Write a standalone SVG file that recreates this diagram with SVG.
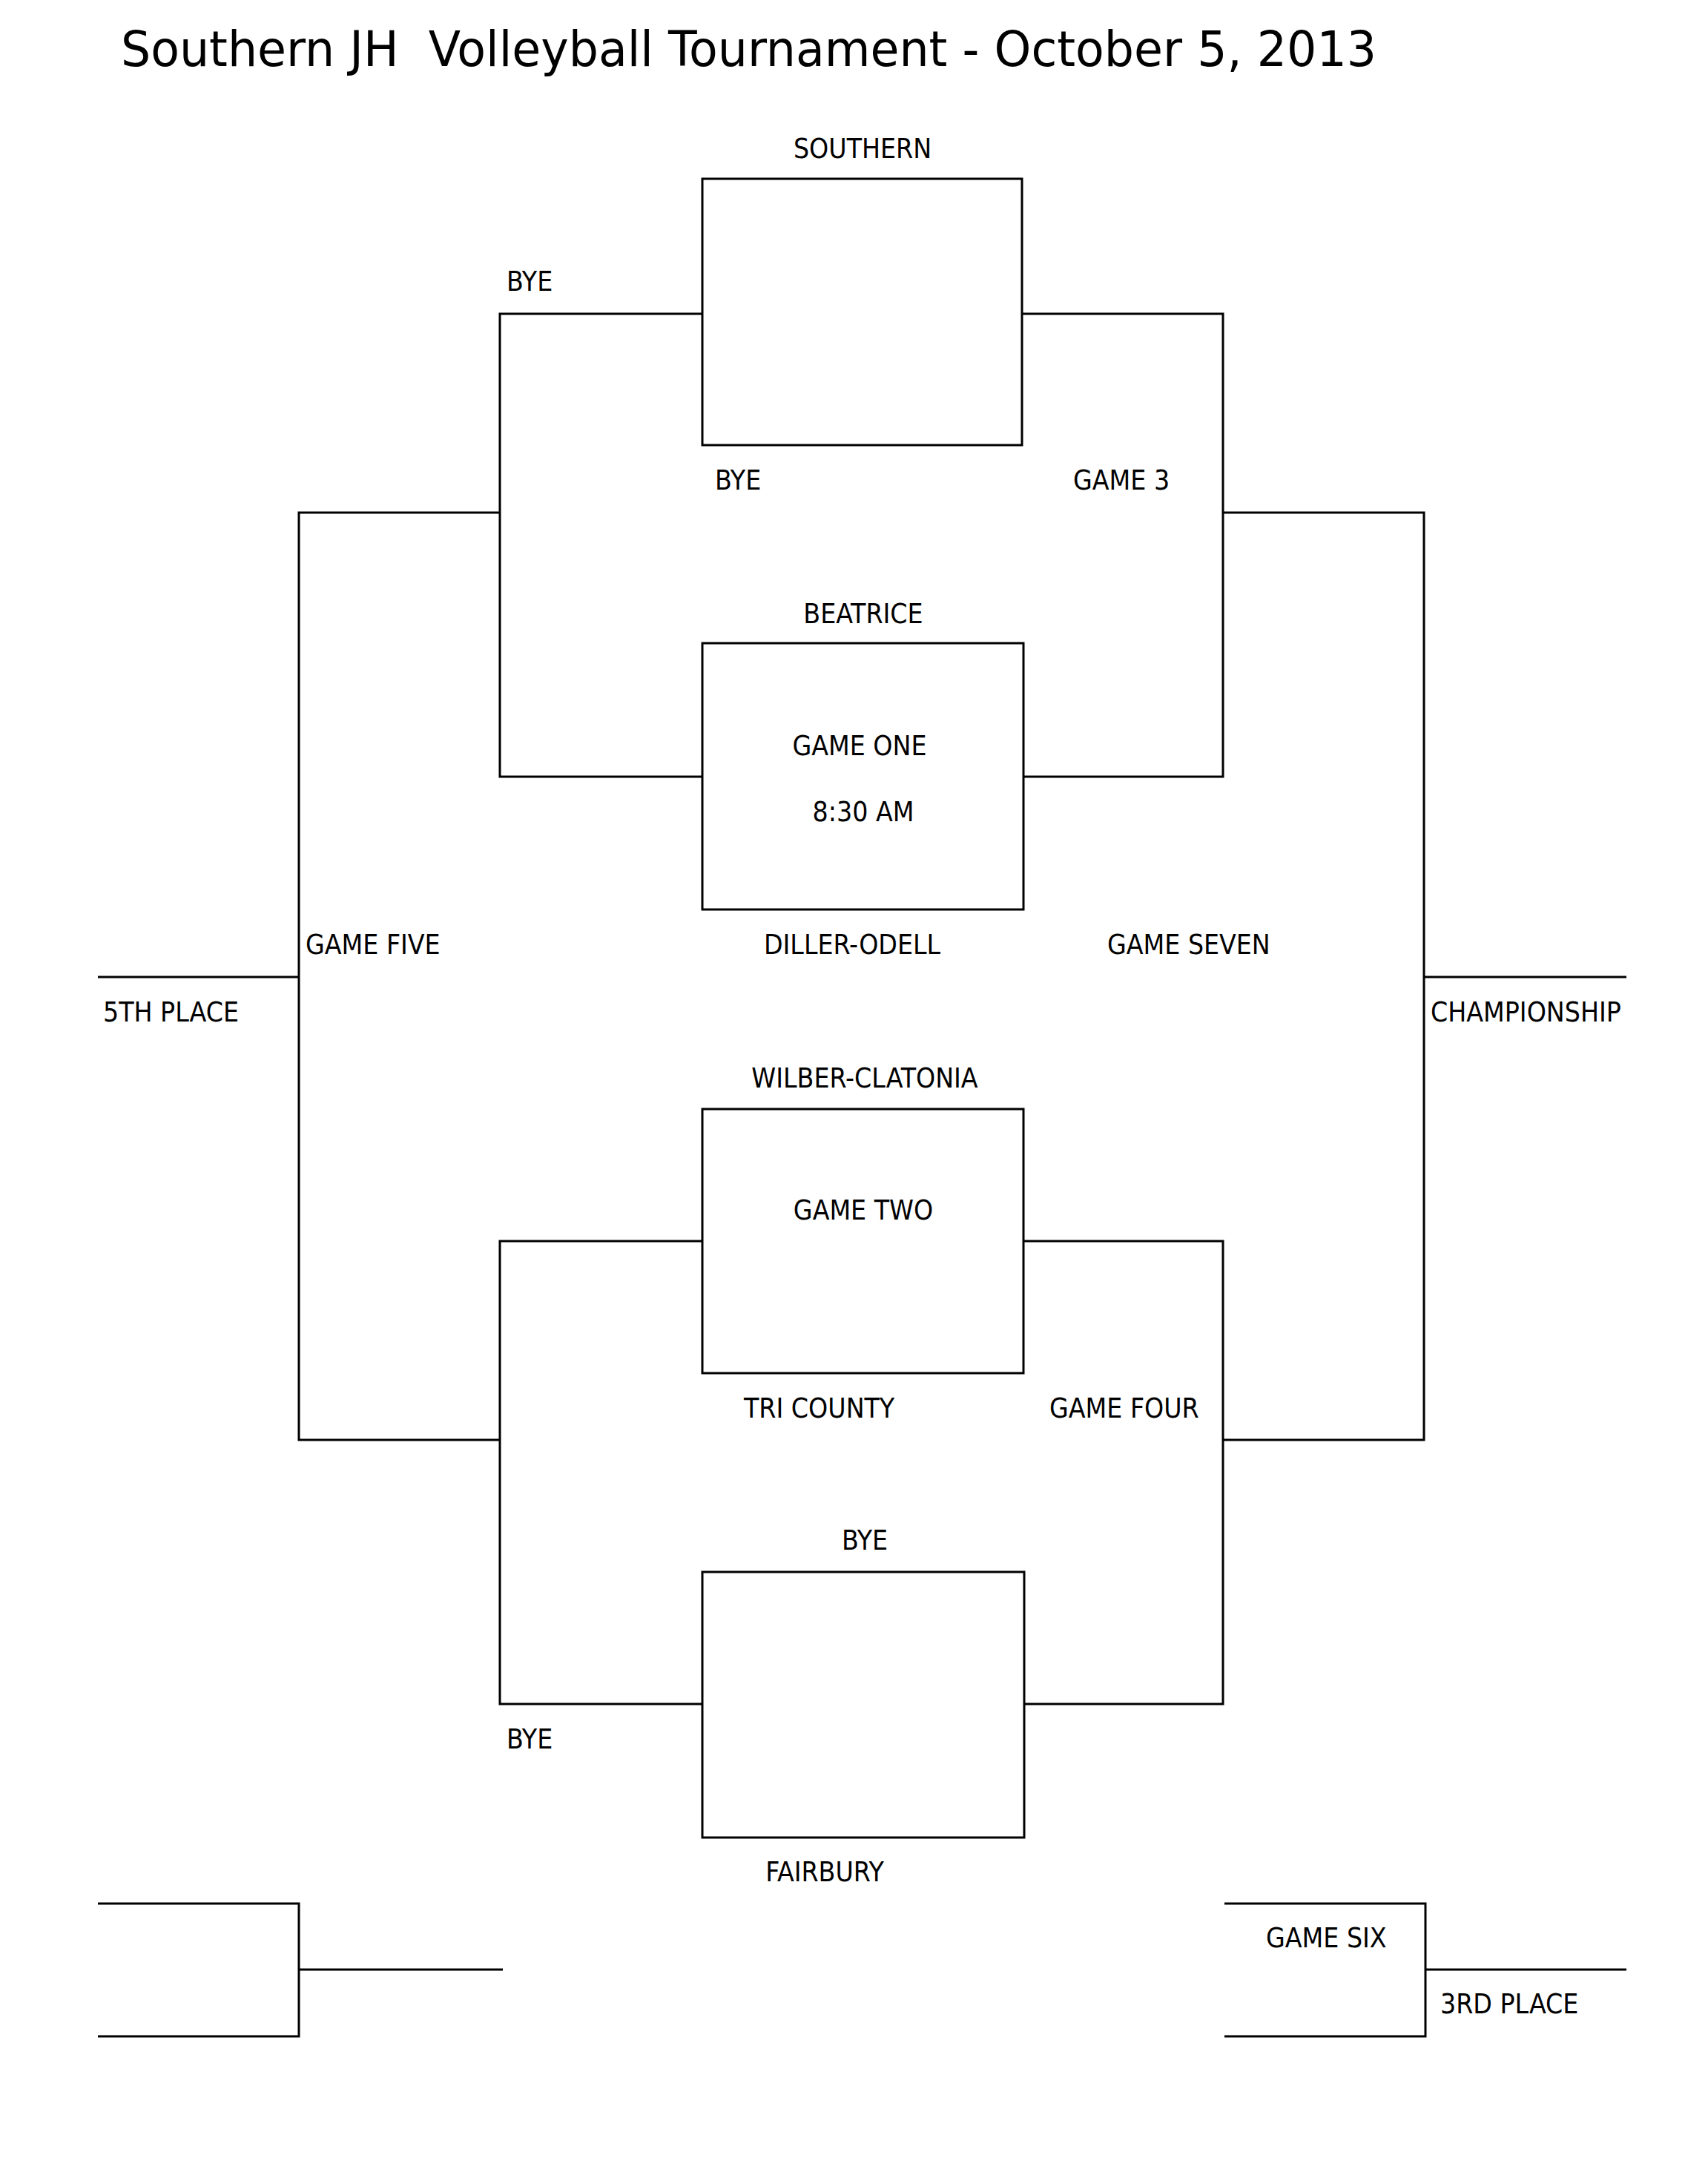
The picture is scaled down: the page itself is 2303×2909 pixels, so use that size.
<svg xmlns="http://www.w3.org/2000/svg" width="2303" height="2909" viewBox="0 0 2303 2909">
<style>
.l{stroke:#000;stroke-width:3;fill:none}
text{font-family:"DejaVu Sans Condensed","Liberation Sans",sans-serif;font-size:37px;fill:#000}
.c{text-anchor:middle}
</style>
<rect width="2303" height="2909" fill="#fff"/>
<text x="163" y="89" xml:space="preserve" textLength="1693" lengthAdjust="spacingAndGlyphs" style="font-size:66px;font-family:'DejaVu Sans','Liberation Sans',sans-serif">Southern JH  Volleyball Tournament - October 5, 2013</text>
<g id="game-boxes">
<rect id="box1" class="l" x="947" y="241" width="431" height="359"/>
<rect id="box2" class="l" x="947" y="867" width="433" height="359"/>
<rect id="box3" class="l" x="947" y="1495" width="433" height="356"/>
<rect id="box4" class="l" x="947" y="2119" width="434" height="358"/>
</g>
<g id="connectors">
<path class="l" d="M947 423H674V1047H947M674 691H403V1941H674M947 1673H674V2297H947"/>
<path class="l" d="M1378 423H1649V1047H1380M1649 691H1920V1941H1649M1380 1673H1649V2297H1381"/>
<path class="l" d="M403 1317H132M1920 1317H2193"/>
<path class="l" d="M132 2566H403V2745H132M403 2655H678"/>
<path class="l" d="M1651 2566H1922V2745H1651M1922 2655H2193"/>
</g>
<g id="labels">
<text class="c" x="1163" y="213">SOUTHERN</text>
<text x="683" y="392">BYE</text>
<text x="964" y="660">BYE</text>
<text x="1447" y="660">GAME 3</text>
<text class="c" x="1164" y="840">BEATRICE</text>
<text class="c" x="1159" y="1018">GAME ONE</text>
<text class="c" x="1164" y="1107">8:30 AM</text>
<text x="412" y="1286">GAME FIVE</text>
<text class="c" x="1149" y="1286">DILLER-ODELL</text>
<text x="1493" y="1286">GAME SEVEN</text>
<text x="139" y="1377">5TH PLACE</text>
<text x="1929" y="1377">CHAMPIONSHIP</text>
<text class="c" x="1166" y="1466">WILBER-CLATONIA</text>
<text class="c" x="1164" y="1644">GAME TWO</text>
<text x="1003" y="1911">TRI COUNTY</text>
<text x="1415" y="1911">GAME FOUR</text>
<text class="c" x="1166" y="2089">BYE</text>
<text x="683" y="2357">BYE</text>
<text class="c" x="1112" y="2536">FAIRBURY</text>
<text x="1707" y="2625">GAME SIX</text>
<text x="1942" y="2714">3RD PLACE</text>
</g>
</svg>
